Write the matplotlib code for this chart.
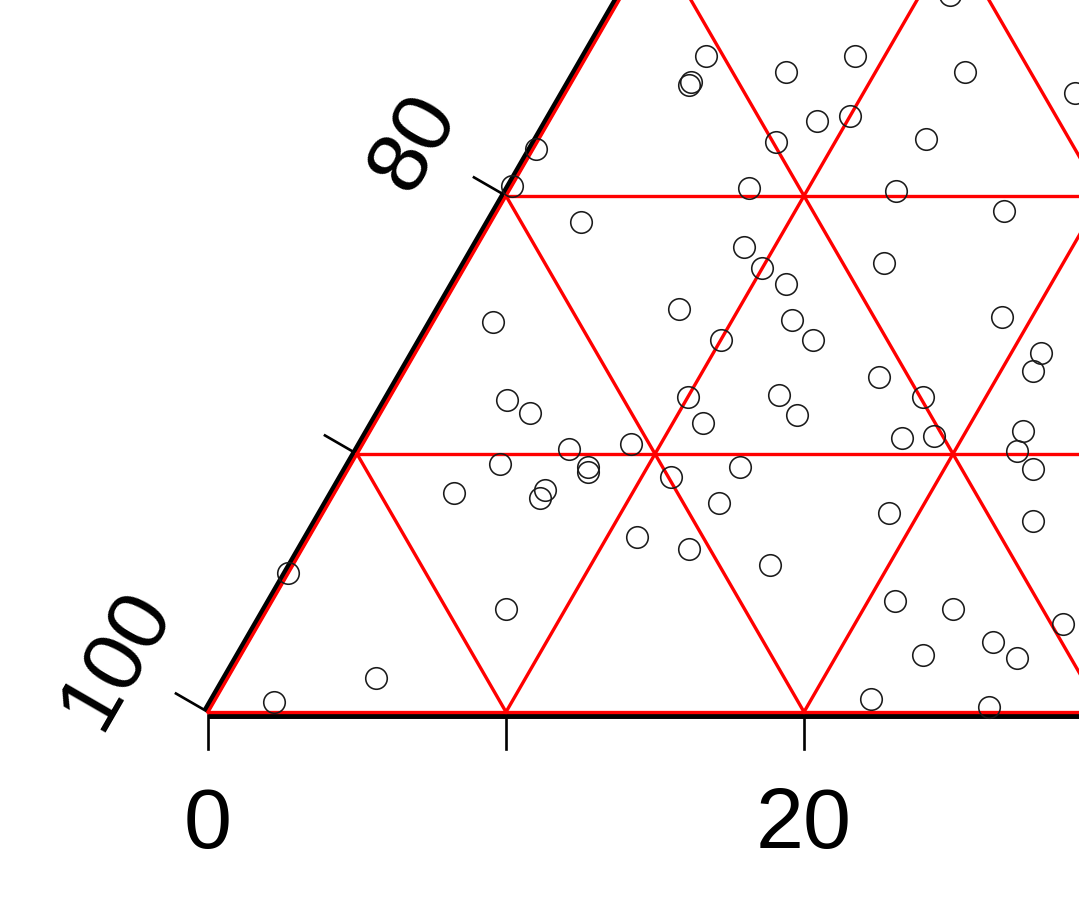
import numpy as np
import matplotlib
matplotlib.use("Agg")
import matplotlib.pyplot as plt

# ---- data: ternary compositions (percent) ----
top_pct = [25.4, 24.3, 24.4, 21.8, 20.4, 20.3, 19.0, 18.0, 27.8, 24.8,
           25.4, 24.8, 24.0, 22.9, 23.1, 22.1, 22.2, 20.2, 19.4, 17.2,
           17.4, 15.1, 15.6, 14.4, 12.1, 11.6, 12.2, 11.2, 10.4, 10.2,
           9.6, 9.5, 9.3, 9.1, 9.5, 8.5, 8.6, 8.3, 16.6, 15.2,
           14.4, 15.3, 13.9, 13.2, 12.3, 11.5, 13.0, 12.2, 10.6, 10.7,
           10.9, 10.1, 9.4, 5.4, 4.0, 1.3, 0.4, 8.1, 6.8, 6.3,
           5.7, 7.7, 7.4, 4.3, 4.0, 3.4, 2.7, 2.1, 2.2, 0.5, 0.2]
right_pct = [4.0, 4.0, 4.0, 0.1, 0.0, 8.0, 3.0, 9.0, 11.0, 7.0,
             9.0, 13.0, 17.1, 9.0, 10.0, 8.0, 13.0, 13.0, 17.0, 10.0,
             14.0, 2.0, 8.0, 10.0, 4.0, 5.0, 10.0, 11.0, 9.0, 7.0,
             5.0, 8.0, 8.1, 11.0, 13.1, 4.0, 7.0, 7.0, 11.1, 12.0,
             13.1, 19.0, 21.0, 21.1, 13.0, 14.0, 16.0, 17.9, 18.0, 19.0,
             21.9, 22.1, 23.0, 0.0, 8.0, 5.0, 2.0, 13.1, 11.0, 13.0,
             16.0, 19.0, 24.0, 20.9, 23.0, 27.0, 25.0, 26.1, 22.9, 22.0, 26.1]
left_pct = [100 - t - r for t, r in zip(top_pct, right_pct)]

grid_levels = [0, 10, 20, 30, 40, 50, 60, 70, 80, 90, 100]
bottom_labels = [0, 20, 40, 60, 80, 100]
left_labels = [100, 80, 60, 40, 20, 0]

S3 = np.sqrt(3) / 2


def tern(t, r):
    t = np.asarray(t, float)
    r = np.asarray(r, float)
    return r + t / 2.0, t * S3


fig = plt.figure(figsize=(10.79, 8.99), dpi=100)
ax = fig.add_axes([0, 0, 1, 1])
ax.set_xlim(-6.980, 29.228)
ax.set_ylim(-6.275, 23.893)
ax.set_aspect("equal")
ax.axis("off")

PX = 1 / 29.8  # one pixel in data units

# black axis lines (offset slightly outward)
off = 2.5 * PX
n_left = np.array([-S3, 0.5])
x0, y0 = tern([0, 100], [0, 0])
ax.plot(x0 + n_left[0] * off, y0 + n_left[1] * off, color="black", lw=5.0,
        solid_capstyle="butt", zorder=2)
x1, y1 = tern([0, 0], [0, 100])
ax.plot(x1, y1 - off, color="black", lw=5.0, solid_capstyle="butt", zorder=2)

# red grid incl. edges
for k in grid_levels:
    xs, ys = tern([k, k], [0, 100 - k])          # constant top
    ax.plot(xs, ys, color="#ff0000", lw=2.4, zorder=3)
    xs, ys = tern([0, 100 - k], [k, k])          # constant right
    ax.plot(xs, ys, color="#ff0000", lw=2.4, zorder=3)
    xs, ys = tern([0, 100 - k], [100 - k, 0])    # constant left
    ax.plot(xs, ys, color="#ff0000", lw=2.4, zorder=3)

# ticks
tick_len = 37 * PX
for k in grid_levels:
    bx, by = tern(0, k)
    ax.plot([bx, bx], [by - off, by - tick_len], color="black", lw=1.9, zorder=2)
    lx, ly = tern(100 - k, 0)
    ax.plot([lx, lx + n_left[0] * tick_len], [ly, ly + n_left[1] * tick_len],
            color="black", lw=1.9, zorder=2)

font = dict(family="Liberation Sans", fontsize=62, color="black")
for k in bottom_labels:
    bx, by = tern(0, k)
    ax.text(bx, by - 3.82, str(k), ha="center", va="center", **font)
lab_d = 106 * PX
for k in left_labels:
    lx, ly = tern(100 - k, 0)
    ax.text(lx + n_left[0] * lab_d, ly + n_left[1] * lab_d, str(k),
            ha="center", va="center", rotation=60, rotation_mode="anchor", **font)

# points
px, py = tern(top_pct, right_pct)
ax.plot(px, py, linestyle="none", marker="o", markersize=15.5,
        markerfacecolor="none", markeredgecolor="#1a1a1a", markeredgewidth=1.15,
        zorder=5)

fig.savefig("out.png", dpi=100)
